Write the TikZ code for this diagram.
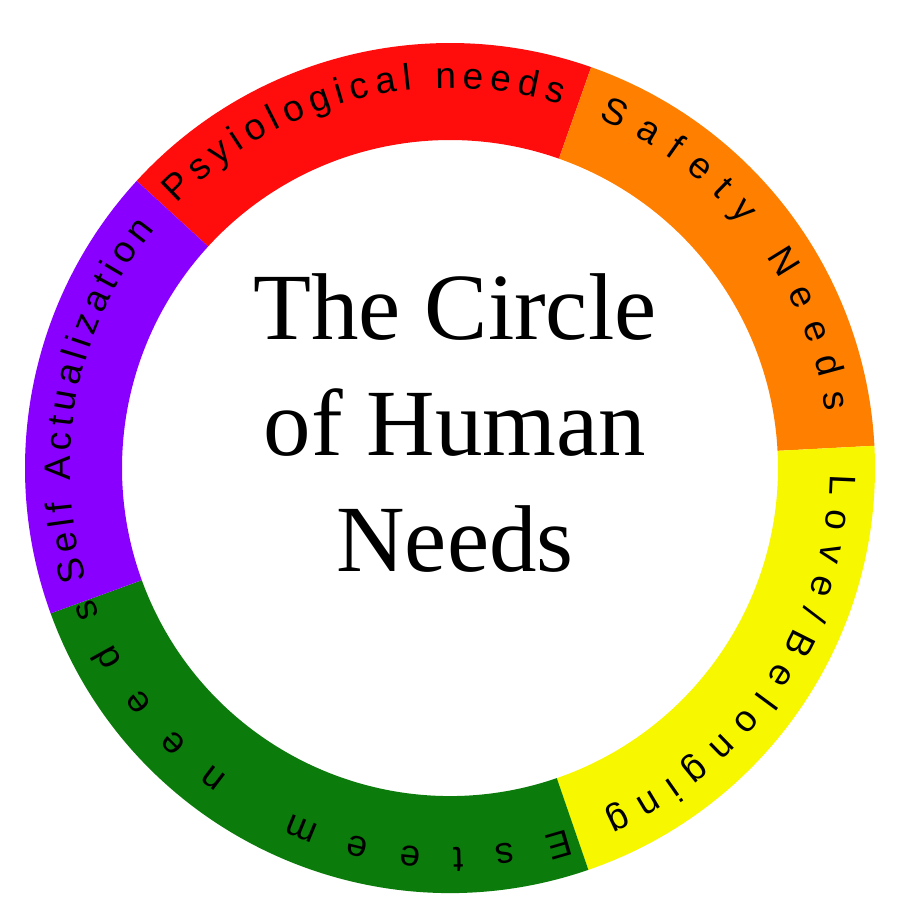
\documentclass[tikz,border=0pt]{standalone}
\usepackage{fontspec}
\setmainfont{Liberation Serif}
\setsansfont{Liberation Sans}
\usetikzlibrary{decorations.text,calc}

\definecolor{needred}{HTML}{FF0D0D}
\definecolor{needorange}{HTML}{FF7F00}
\definecolor{needyellow}{HTML}{F7F700}
\definecolor{needgreen}{HTML}{0B7B0B}
\definecolor{needpurple}{HTML}{8A00FF}

\begin{document}
\begin{tikzpicture}[
  ringtext/.style={decorate, decoration={text along path, text align={fit to path},
    text={|\sffamily\fontsize{10.5}{12}\selectfont|#1}}}
]
\useasboundingbox[fill=white] (0,0) rectangle (9.02,9.08);
\coordinate (c) at (4.50,4.40);
\def\Ro{4.25}
\def\Ri{3.28}
\def\Rt{3.80}

% ring segments: colour / start angle / end angle
\foreach \col/\a/\b in {needred/137.5/70.6, needorange/70.6/3, needyellow/3/-71,
                         needgreen/-71/-160, needpurple/-160/-222.5}{
  \fill[\col] ($(c)+(\a:\Ro)$) arc[start angle=\a, end angle=\b, radius=\Ro]
    -- ($(c)+(\b:\Ri)$) arc[start angle=\b, end angle=\a, radius=\Ri] -- cycle;
}

% labels along the ring (clockwise)
\path[ringtext={Psyiological needs}] ($(c)+(136:\Rt)$) arc[start angle=136, end angle=73, radius=\Rt];
\path[ringtext={Safety Needs}] ($(c)+(67:\Rt)$) arc[start angle=67, end angle=8.5, radius=\Rt];
\path[ringtext={Love/Belonging}] ($(c)+(-1:\Rt)$) arc[start angle=-1, end angle=-66, radius=\Rt];
\path[ringtext={Esteem needs}] ($(c)+(-72:\Rt)$) arc[start angle=-72, end angle=-160, radius=\Rt];
\path[ringtext={Self Actualization}] ($(c)+(-163:\Rt)$) arc[start angle=-163, end angle=-219, radius=\Rt];

% title
\node[align=center, font=\fontsize{27}{33}\selectfont] (title) at (4.55,4.85)
  {The Circle\\of Human\\Needs};
\end{tikzpicture}
\end{document}
